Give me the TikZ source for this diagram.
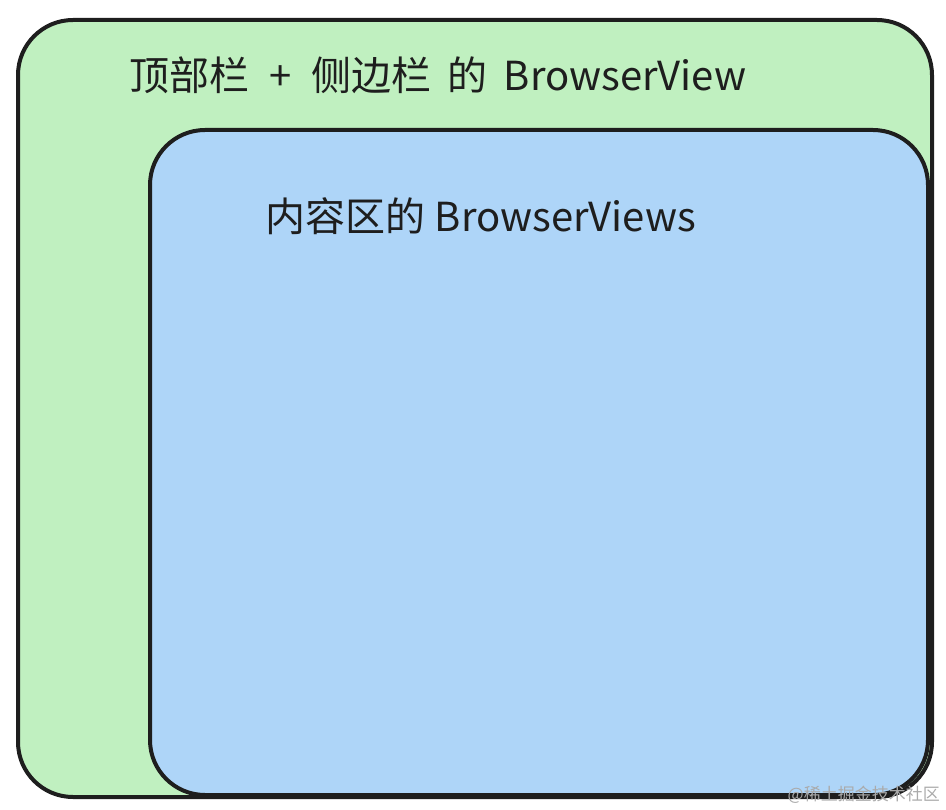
\documentclass[tikz,border=0pt]{standalone}
\usepackage{fontspec}
\setmainfont{Noto Sans CJK SC}
\definecolor{boxgreen}{RGB}{192,240,192}
\definecolor{boxblue}{RGB}{174,213,248}
\definecolor{ink}{RGB}{30,30,30}
\definecolor{wmgray}{RGB}{170,170,170}
\begin{document}
\begin{tikzpicture}[x=1pt,y=-1pt,
  panel/.style={draw=ink, line width=4pt, rounded corners=55pt, inner sep=0pt, anchor=north west},
  label/.style={font=\fontsize{40}{44}\selectfont, text=ink, inner sep=0pt, anchor=center}]
\useasboundingbox (0,0) rectangle (946,810);
\node[panel, fill=boxgreen, minimum width=914pt, minimum height=777pt] (outer) at (16,18) {};
\node[panel, fill=boxblue, minimum width=778pt, minimum height=665pt] (inner) at (148,128) {};
\node[label] (outerlabel) at (438,75) {顶部栏\hspace{0.5em}+\hspace{0.5em}侧边栏\hspace{0.4em}的\hspace{0.4em}BrowserView};
\node[label] (innerlabel) at (481,216) {内容区的 BrowserViews};
\node[font=\fontsize{17}{20}\selectfont, text=wmgray, inner sep=0pt, anchor=east] (wm) at (940,795) {@稀土掘金技术社区};
\end{tikzpicture}
\end{document}
